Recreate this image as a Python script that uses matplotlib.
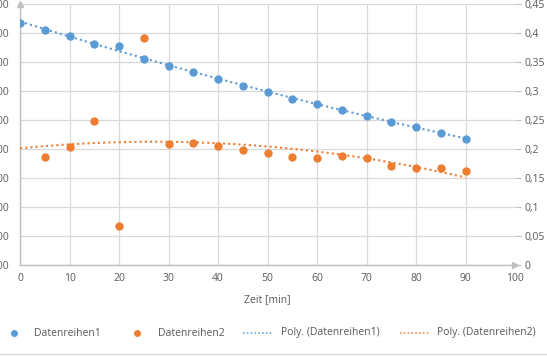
import numpy as np
import matplotlib
matplotlib.use("Agg")
import matplotlib.pyplot as plt
from matplotlib.lines import Line2D

# ---- data ----
zeit = [0, 5, 10, 15, 20, 25, 30, 35, 40, 45, 50, 55, 60, 65, 70, 75, 80, 85, 90]
reihe1 = [0.417, 0.406, 0.395, 0.381, 0.378, 0.355, 0.343, 0.332, 0.320, 0.309,
          0.298, 0.287, 0.278, 0.267, 0.257, 0.247, 0.238, 0.228, 0.218]
reihe2 = [None, 0.187, 0.203, 0.249, 0.067, 0.391, 0.208, 0.210, 0.205, 0.198,
          0.193, 0.187, 0.184, 0.188, 0.184, 0.170, 0.168, 0.167, 0.162]
x_ticks = [0, 10, 20, 30, 40, 50, 60, 70, 80, 90, 100]
y_ticks = [0, 0.05, 0.1, 0.15, 0.2, 0.25, 0.3, 0.35, 0.4, 0.45]
right_labels = ["0", "0,05", "0,1", "0,15", "0,2", "0,25", "0,3", "0,35", "0,4", "0,45"]
left_labels = ["1000", "1100", "1200", "1300", "1400", "1500", "1600", "1700", "1800", "1900"]
series_names = ["Datenreihen1", "Datenreihen2", "Poly. (Datenreihen1)", "Poly. (Datenreihen2)"]
x_label = "Zeit [min]"

BLUE = "#5B9BD5"
ORANGE = "#ED7D31"
GRID = "#d9d9d9"
AXIS = "#bfbfbf"
TXT = "#595959"
W, H = 547, 356

plt.rcParams['font.family'] = ['Open Sans', 'DejaVu Sans']

fig = plt.figure(figsize=(W/100, H/100), dpi=100)
ax = fig.add_axes([20/W, 1-265/H, (515-20)/W, (265-4)/H])

ax.set_xlim(0, 100)
ax.set_ylim(0, 0.45)
ax.set_xticks(x_ticks)
ax.set_xticklabels([str(v) for v in x_ticks])
ax.set_yticks(y_ticks)
ax.set_yticklabels(left_labels)
ax.grid(True, color=GRID, linewidth=0.9)
ax.set_axisbelow(True)
ax.xaxis.get_gridlines()[-1].set_visible(False)
for s in ["top", "right"]:
    ax.spines[s].set_visible(False)
for s in ["left", "bottom"]:
    ax.spines[s].set_color(AXIS)
    ax.spines[s].set_linewidth(1.0)
ax.tick_params(axis="both", length=0, colors=TXT, labelsize=7.5)
ax.tick_params(axis="x", pad=6)
ax.tick_params(axis="y", pad=8)

ax2 = ax.twinx()
ax2.set_ylim(0, 0.45)
ax2.set_yticks(y_ticks)
ax2.set_yticklabels(right_labels)
for s in ax2.spines.values():
    s.set_visible(False)
ax2.tick_params(axis="y", length=4, colors=TXT, labelsize=7.5, pad=3)
ax2.tick_params(axis="y", color=AXIS)

# arrows on axes
ax.plot([0], [1.0], marker="^", color=AXIS, markersize=5, transform=ax.transAxes, clip_on=False)
ax.plot([1.0], [0], marker=">", color=AXIS, markersize=5, transform=ax.transAxes, clip_on=False)

x1 = np.array(zeit, dtype=float)
y1 = np.array(reihe1, dtype=float)
x2 = np.array([x for x, v in zip(zeit, reihe2) if v is not None], dtype=float)
y2 = np.array([v for v in reihe2 if v is not None], dtype=float)

ax.plot(x1, y1, "o", color=BLUE, markersize=5, zorder=4)
ax.plot(x2, y2, "o", color=ORANGE, markersize=5, zorder=4)

xs = np.linspace(0, 90, 200)
p1 = np.polyfit(x1, y1, 2)
p2 = np.polyfit(x2, y2, 2)
dot = (0, (1, 1.5))
ax.plot(xs, np.polyval(p1, xs), color=BLUE, linestyle=dot, linewidth=1.5, zorder=3)
ax.plot(xs, np.polyval(p2, xs), color=ORANGE, linestyle=dot, linewidth=1.5, zorder=3)

ax.set_xlabel(x_label, color=TXT, fontsize=7.5, labelpad=7)

# legend (Excel-style, bottom row)
ly = 1 - 333/H
def fx(px):
    return px / W
fig.add_artist(Line2D([fx(14)], [ly], marker="o", color=BLUE, markersize=4,
                      linestyle="none", transform=fig.transFigure))
fig.add_artist(Line2D([fx(137)], [ly], marker="o", color=ORANGE, markersize=4,
                      linestyle="none", transform=fig.transFigure))
fig.add_artist(Line2D([fx(243), fx(272)], [ly, ly], color=BLUE, linestyle=dot,
                      linewidth=1.1, transform=fig.transFigure))
fig.add_artist(Line2D([fx(400), fx(430)], [ly, ly], color=ORANGE, linestyle=dot,
                      linewidth=1.1, transform=fig.transFigure))
for px, name in zip([34, 158, 281, 437], series_names):
    fig.text(fx(px), ly, name, ha="left", va="center", fontsize=7.5, color=TXT)

fig.add_artist(Line2D([0, 1], [1-354/H, 1-354/H], color=GRID, linewidth=1.0,
                      transform=fig.transFigure))

fig.savefig("out.png", dpi=100)
